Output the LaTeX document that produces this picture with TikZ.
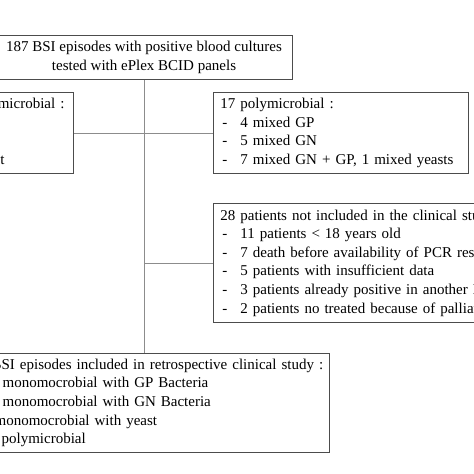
\documentclass[tikz,border=0pt]{standalone}
\usepackage{fontspec}
\setmainfont{Liberation Serif}
\usetikzlibrary{positioning}

\newcommand{\dashitem}{\hspace*{2pt}\makebox[18pt][l]{-}}

\begin{document}
\begin{tikzpicture}[
                x=1pt, y=-1pt,
                box/.style={rectangle, draw=black!70, line width=0.8pt, align=left, inner sep=0pt,
                            font=\fontsize{15}{18.6}\selectfont},
                link/.style={draw=black!45, line width=0.7pt}
            ]
                \useasboundingbox (0,0) rectangle (474,474);
                \clip (0,0) rectangle (474,474);

                \node[box, align=center, minimum width=296pt, minimum height=44pt] (bsi) at (144,57.5)
                    {187 BSI episodes with positive blood cultures\\tested with ePlex BCID panels};
                \node[box, anchor=north east, minimum width=140pt, minimum height=81pt, text width=140pt] (mono) at (74,92)
                    {\hspace*{30pt}monomicrobial :\\ \mbox{}\\ \mbox{}\\ \hspace*{40pt}yeast};
                \node[box, anchor=north west, minimum width=255pt, minimum height=81pt, inner xsep=7pt,
                      text width=241pt] (poly) at (213,92)
                    {17 polymicrobial :\\
                     \dashitem 4 mixed GP\\
                     \dashitem 5 mixed GN\\
                     \dashitem 7 mixed GN + GP, 1 mixed yeasts};
                \node[box, anchor=north west, minimum width=320pt, minimum height=119pt, inner xsep=7pt,
                      text width=306pt] (excl) at (213,203)
                    {28 patients not included in the clinical study :\\
                     \dashitem 11 patients < 18 years old\\
                     \dashitem 7 death before availability of PCR results\\
                     \dashitem 5 patients with insufficient data\\
                     \dashitem 3 patients already positive in another BSI\\
                     \dashitem 2 patients no treated because of palliative care};
                \node[box, anchor=north east, minimum width=350pt, minimum height=99pt,
                      text width=350pt] (incl) at (330,353)
                    {\hspace*{12pt}BSI episodes included in retrospective clinical study :\\
                     \hspace*{23pt}monomocrobial with GP Bacteria\\
                     \hspace*{23pt}monomocrobial with GN Bacteria\\
                     \hspace*{15pt}monomocrobial with yeast\\
                     \hspace*{22pt}polymicrobial};

                \draw[link] (bsi.south) -- (bsi.south |- incl.north);
                \draw[link] (mono.east) -- (poly.west);
                \draw[link] (excl.west) -- (excl.west -| bsi.south);
            \end{tikzpicture}
\end{document}
